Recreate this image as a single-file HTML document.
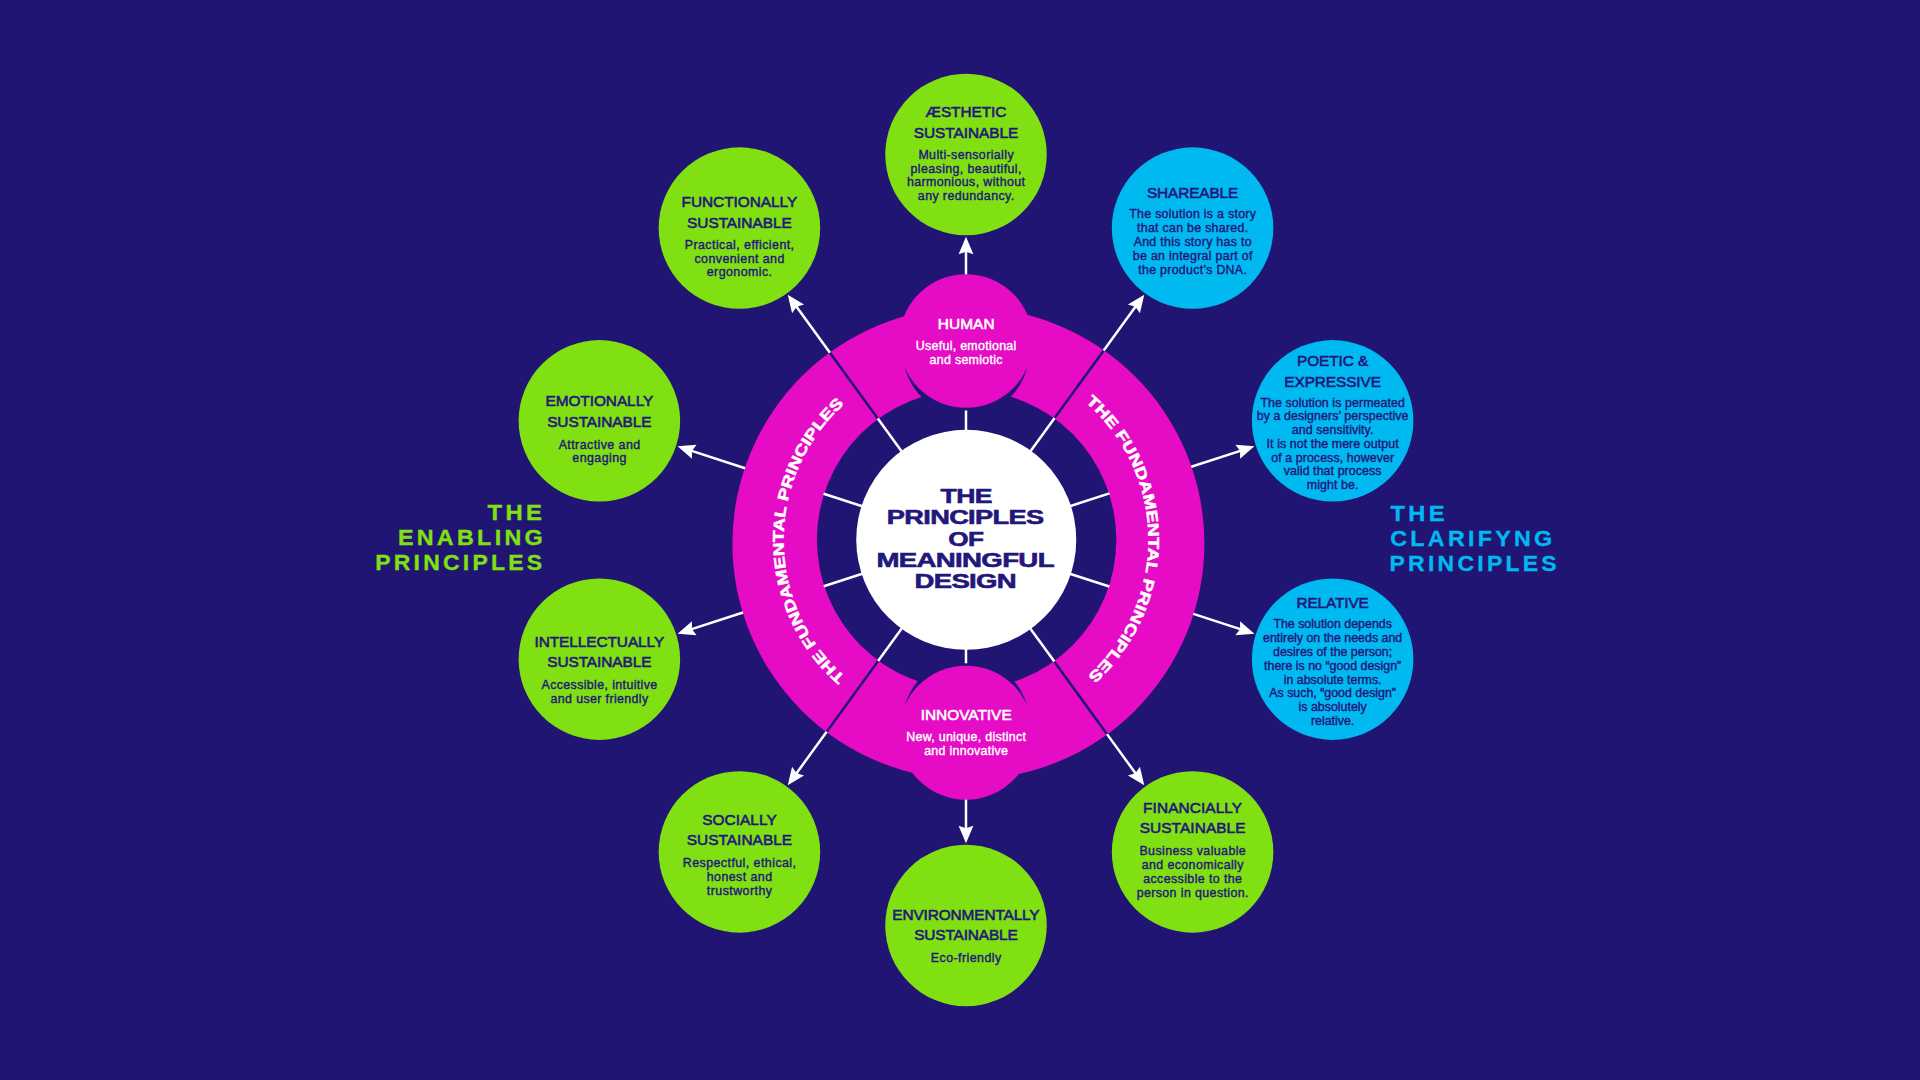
<!DOCTYPE html>
<html><head><meta charset="utf-8"><title>The Principles of Meaningful Design</title>
<style>
html,body{margin:0;padding:0;background:#201573;overflow:hidden}
svg{display:block}
text{font-family:"Liberation Sans",sans-serif}
.t{font-size:15.4px;fill:#22177a;stroke:#22177a;stroke-width:0.6px;text-anchor:middle}
.b{font-size:12.4px;fill:#22177a;stroke:#22177a;stroke-width:0.4px;text-anchor:middle}
.w{fill:#ffffff;stroke:#ffffff}
.c{font-size:20.6px;font-weight:bold;fill:#22177a}
.s{font-size:20.6px;font-weight:bold}
.r{font-size:15.2px;font-weight:bold;fill:#ffffff;stroke:#ffffff;stroke-width:0.55px}
</style></head>
<body><svg width="1920" height="1080" viewBox="0 0 1920 1080">
<rect width="1920" height="1080" fill="#201573"/>
<circle cx="968.4" cy="543.5" r="236.0" fill="#e60bc4"/>
<circle cx="966.6" cy="539.7" r="149.7" fill="#201573"/>
<line x1="1052.23" y1="421.32" x2="1104.45" y2="349.44" stroke="#201573" stroke-width="2.5"/>
<line x1="1052.23" y1="658.68" x2="1107.80" y2="735.17" stroke="#201573" stroke-width="2.5"/>
<line x1="879.77" y1="658.68" x2="825.88" y2="732.86" stroke="#201573" stroke-width="2.5"/>
<line x1="879.77" y1="421.32" x2="829.19" y2="351.70" stroke="#201573" stroke-width="2.5"/>
<line x1="966.00" y1="285.00" x2="966.00" y2="250.80" stroke="#ffffff" stroke-width="2.5"/>
<polygon points="0.00,-303.30 7.40,-285.70 0.00,-288.20 -7.40,-285.70" fill="#ffffff" transform="translate(966.00,540.00) rotate(0)"/>
<line x1="1027.72" y1="455.05" x2="1054.64" y2="418.00" stroke="#ffffff" stroke-width="2.5"/>
<line x1="1103.69" y1="350.49" x2="1135.99" y2="306.03" stroke="#ffffff" stroke-width="2.5"/>
<polygon points="0.00,-303.30 7.40,-285.70 0.00,-288.20 -7.40,-285.70" fill="#ffffff" transform="translate(966.00,540.00) rotate(36)"/>
<line x1="1065.86" y1="507.55" x2="1109.48" y2="493.38" stroke="#ffffff" stroke-width="2.5"/>
<line x1="1191.27" y1="466.80" x2="1241.05" y2="450.63" stroke="#ffffff" stroke-width="2.5"/>
<polygon points="0.00,-303.30 7.40,-285.70 0.00,-288.20 -7.40,-285.70" fill="#ffffff" transform="translate(966.00,540.00) rotate(72)"/>
<line x1="1065.86" y1="572.45" x2="1109.30" y2="586.56" stroke="#ffffff" stroke-width="2.5"/>
<line x1="1193.35" y1="613.87" x2="1241.05" y2="629.37" stroke="#ffffff" stroke-width="2.5"/>
<polygon points="0.00,-303.30 7.40,-285.70 0.00,-288.20 -7.40,-285.70" fill="#ffffff" transform="translate(966.00,540.00) rotate(108)"/>
<line x1="1027.72" y1="624.95" x2="1054.35" y2="661.60" stroke="#ffffff" stroke-width="2.5"/>
<line x1="1107.03" y1="734.12" x2="1135.99" y2="773.97" stroke="#ffffff" stroke-width="2.5"/>
<polygon points="0.00,-303.30 7.40,-285.70 0.00,-288.20 -7.40,-285.70" fill="#ffffff" transform="translate(966.00,540.00) rotate(144)"/>
<line x1="966.00" y1="795.00" x2="966.00" y2="829.20" stroke="#ffffff" stroke-width="2.5"/>
<polygon points="0.00,-303.30 7.40,-285.70 0.00,-288.20 -7.40,-285.70" fill="#ffffff" transform="translate(966.00,540.00) rotate(180)"/>
<line x1="904.28" y1="624.95" x2="878.06" y2="661.03" stroke="#ffffff" stroke-width="2.5"/>
<line x1="826.64" y1="731.81" x2="796.01" y2="773.97" stroke="#ffffff" stroke-width="2.5"/>
<polygon points="0.00,-303.30 7.40,-285.70 0.00,-288.20 -7.40,-285.70" fill="#ffffff" transform="translate(966.00,540.00) rotate(216)"/>
<line x1="866.14" y1="572.45" x2="823.78" y2="586.21" stroke="#ffffff" stroke-width="2.5"/>
<line x1="743.01" y1="612.45" x2="690.95" y2="629.37" stroke="#ffffff" stroke-width="2.5"/>
<polygon points="0.00,-303.30 7.40,-285.70 0.00,-288.20 -7.40,-285.70" fill="#ffffff" transform="translate(966.00,540.00) rotate(252)"/>
<line x1="866.14" y1="507.55" x2="823.61" y2="493.73" stroke="#ffffff" stroke-width="2.5"/>
<line x1="745.05" y1="468.21" x2="690.95" y2="450.63" stroke="#ffffff" stroke-width="2.5"/>
<polygon points="0.00,-303.30 7.40,-285.70 0.00,-288.20 -7.40,-285.70" fill="#ffffff" transform="translate(966.00,540.00) rotate(288)"/>
<line x1="904.28" y1="455.05" x2="877.78" y2="418.58" stroke="#ffffff" stroke-width="2.5"/>
<line x1="829.95" y1="352.75" x2="796.01" y2="306.03" stroke="#ffffff" stroke-width="2.5"/>
<polygon points="0.00,-303.30 7.40,-285.70 0.00,-288.20 -7.40,-285.70" fill="#ffffff" transform="translate(966.00,540.00) rotate(324)"/>
<circle cx="966.00" cy="352.3" r="63.0" fill="#201573"/>
<line x1="966" y1="440" x2="966" y2="410.5" stroke="#ffffff" stroke-width="2.5"/>
<circle cx="966.00" cy="341.00" r="66.80" fill="#e60bc4"/>
<circle cx="966.00" cy="722.0" r="63.2" fill="#201573"/>
<line x1="966" y1="640" x2="966" y2="663.3" stroke="#ffffff" stroke-width="2.5"/>
<circle cx="966.00" cy="732.70" r="67.00" fill="#e60bc4"/>
<circle cx="966.25" cy="539.8" r="110" fill="#ffffff"/>
<circle cx="966.00" cy="154.50" r="80.75" fill="#80e012"/>
<circle cx="1192.59" cy="228.12" r="80.75" fill="#00b9f1"/>
<circle cx="1332.63" cy="420.87" r="80.75" fill="#00b9f1"/>
<circle cx="1332.63" cy="659.13" r="80.75" fill="#00b9f1"/>
<circle cx="1192.59" cy="851.88" r="80.75" fill="#80e012"/>
<circle cx="966.00" cy="925.50" r="80.75" fill="#80e012"/>
<circle cx="739.41" cy="851.88" r="80.75" fill="#80e012"/>
<circle cx="599.37" cy="659.13" r="80.75" fill="#80e012"/>
<circle cx="599.37" cy="420.87" r="80.75" fill="#80e012"/>
<circle cx="739.41" cy="228.12" r="80.75" fill="#80e012"/>
<text x="965.98" y="117.20" class="t" letter-spacing="-0.05">ÆSTHETIC</text>
<text x="965.98" y="137.90" class="t" letter-spacing="-0.05">SUSTAINABLE</text>
<text x="966.20" y="158.80" class="b" letter-spacing="0.4">Multi-sensorially</text>
<text x="966.20" y="172.50" class="b" letter-spacing="0.4">pleasing, beautiful,</text>
<text x="966.20" y="186.20" class="b" letter-spacing="0.4">harmonious, without</text>
<text x="966.20" y="199.90" class="b" letter-spacing="0.4">any redundancy.</text>
<text x="1192.53" y="197.90" class="t" letter-spacing="-0.13">SHAREABLE</text>
<text x="1192.73" y="217.60" class="b" letter-spacing="0.28">The solution is a story</text>
<text x="1192.73" y="231.62" class="b" letter-spacing="0.28">that can be shared.</text>
<text x="1192.73" y="245.64" class="b" letter-spacing="0.28">And this story has to</text>
<text x="1192.73" y="259.66" class="b" letter-spacing="0.28">be an integral part of</text>
<text x="1192.73" y="273.68" class="b" letter-spacing="0.28">the product’s DNA.</text>
<text x="1332.58" y="365.80" class="t" letter-spacing="-0.1">POETIC &</text>
<text x="1332.58" y="386.70" class="t" letter-spacing="-0.1">EXPRESSIVE</text>
<text x="1332.67" y="406.70" class="b" letter-spacing="0.08">The solution is permeated</text>
<text x="1332.67" y="420.45" class="b" letter-spacing="0.08">by a designers’ perspective</text>
<text x="1332.67" y="434.20" class="b" letter-spacing="0.08">and sensitivity.</text>
<text x="1332.67" y="447.95" class="b" letter-spacing="0.08">It is not the mere output</text>
<text x="1332.67" y="461.70" class="b" letter-spacing="0.08">of a process, however</text>
<text x="1332.67" y="475.45" class="b" letter-spacing="0.08">valid that process</text>
<text x="1332.67" y="489.20" class="b" letter-spacing="0.08">might be.</text>
<text x="1332.57" y="608.00" class="t" letter-spacing="-0.12">RELATIVE</text>
<text x="1332.63" y="627.80" class="b" letter-spacing="0.0">The solution depends</text>
<text x="1332.63" y="641.73" class="b" letter-spacing="0.0">entirely on the needs and</text>
<text x="1332.63" y="655.66" class="b" letter-spacing="0.0">desires of the person;</text>
<text x="1332.63" y="669.59" class="b" letter-spacing="0.0">there is no “good design”</text>
<text x="1332.63" y="683.52" class="b" letter-spacing="0.0">in absolute terms.</text>
<text x="1332.63" y="697.45" class="b" letter-spacing="0.0">As such, “good design”</text>
<text x="1332.63" y="711.38" class="b" letter-spacing="0.0">is absolutely</text>
<text x="1332.63" y="725.31" class="b" letter-spacing="0.0">relative.</text>
<text x="1192.64" y="813.00" class="t" letter-spacing="0.1">FINANCIALLY</text>
<text x="1192.64" y="833.30" class="t" letter-spacing="0.1">SUSTAINABLE</text>
<text x="1192.79" y="854.70" class="b" letter-spacing="0.4">Business valuable</text>
<text x="1192.79" y="868.70" class="b" letter-spacing="0.4">and economically</text>
<text x="1192.79" y="882.70" class="b" letter-spacing="0.4">accessible to the</text>
<text x="1192.79" y="896.70" class="b" letter-spacing="0.4">person in question.</text>
<text x="965.93" y="919.70" class="t" letter-spacing="-0.13">ENVIRONMENTALLY</text>
<text x="965.93" y="939.70" class="t" letter-spacing="-0.13">SUSTAINABLE</text>
<text x="966.23" y="962.00" class="b" letter-spacing="0.45">Eco-friendly</text>
<text x="739.43" y="825.00" class="t" letter-spacing="0.05">SOCIALLY</text>
<text x="739.43" y="845.00" class="t" letter-spacing="0.05">SUSTAINABLE</text>
<text x="739.63" y="866.70" class="b" letter-spacing="0.45">Respectful, ethical,</text>
<text x="739.63" y="880.70" class="b" letter-spacing="0.45">honest and</text>
<text x="739.63" y="894.70" class="b" letter-spacing="0.45">trustworthy</text>
<text x="599.33" y="647.00" class="t" letter-spacing="-0.07">INTELLECTUALLY</text>
<text x="599.33" y="666.70" class="t" letter-spacing="-0.07">SUSTAINABLE</text>
<text x="599.56" y="688.70" class="b" letter-spacing="0.38">Accessible, intuitive</text>
<text x="599.56" y="702.50" class="b" letter-spacing="0.38">and user friendly</text>
<text x="599.34" y="406.20" class="t" letter-spacing="-0.05">EMOTIONALLY</text>
<text x="599.34" y="426.70" class="t" letter-spacing="-0.05">SUSTAINABLE</text>
<text x="599.59" y="448.70" class="b" letter-spacing="0.44">Attractive and</text>
<text x="599.59" y="461.70" class="b" letter-spacing="0.44">engaging</text>
<text x="739.39" y="207.00" class="t" letter-spacing="-0.03">FUNCTIONALLY</text>
<text x="739.39" y="227.80" class="t" letter-spacing="-0.03">SUSTAINABLE</text>
<text x="739.63" y="248.70" class="b" letter-spacing="0.45">Practical, efficient,</text>
<text x="739.63" y="262.50" class="b" letter-spacing="0.45">convenient and</text>
<text x="739.63" y="276.30" class="b" letter-spacing="0.45">ergonomic.</text>
<text x="966.2" y="328.9" class="t w" letter-spacing="0.1">HUMAN</text>
<text x="966.2" y="349.8" class="b w" letter-spacing="0.3">Useful, emotional</text>
<text x="966.2" y="363.7" class="b w" letter-spacing="0.3">and semiotic</text>
<text x="966.2" y="720.0" class="t w" letter-spacing="0.0">INNOVATIVE</text>
<text x="966.2" y="740.8" class="b w" letter-spacing="0.3">New, unique, distinct</text>
<text x="966.2" y="754.7" class="b w" letter-spacing="0.3">and innovative</text>
<text x="940.6" y="502.9" font-size="20.4" font-weight="bold" letter-spacing="-0.5" fill="#22177a" stroke="#22177a" stroke-width="0.6" textLength="51.2" lengthAdjust="spacingAndGlyphs">THE</text>
<text x="886.8" y="523.8" font-size="20.4" font-weight="bold" letter-spacing="-0.5" fill="#22177a" stroke="#22177a" stroke-width="0.6" textLength="156.616" lengthAdjust="spacingAndGlyphs">PRINCIPLES</text>
<text x="948.25" y="546.0" font-size="20.4" font-weight="bold" letter-spacing="-0.5" fill="#22177a" stroke="#22177a" stroke-width="0.6" textLength="35.069" lengthAdjust="spacingAndGlyphs">OF</text>
<text x="876.4" y="566.8" font-size="20.4" font-weight="bold" letter-spacing="-0.5" fill="#22177a" stroke="#22177a" stroke-width="0.6" textLength="177.459" lengthAdjust="spacingAndGlyphs">MEANINGFUL</text>
<text x="914.5" y="587.9" font-size="20.4" font-weight="bold" letter-spacing="-0.5" fill="#22177a" stroke="#22177a" stroke-width="0.6" textLength="101.501" lengthAdjust="spacingAndGlyphs">DESIGN</text>
<text x="487.6" y="520.2" font-size="21.3" font-weight="bold" letter-spacing="3.0" fill="#80e012" stroke="#80e012" stroke-width="0.3" textLength="57.695" lengthAdjust="spacingAndGlyphs">THE</text>
<text x="397.9" y="545.2" font-size="21.3" font-weight="bold" letter-spacing="3.0" fill="#80e012" stroke="#80e012" stroke-width="0.3" textLength="148.087" lengthAdjust="spacingAndGlyphs">ENABLING</text>
<text x="375.2" y="570.2" font-size="21.3" font-weight="bold" letter-spacing="3.0" fill="#80e012" stroke="#80e012" stroke-width="0.3" textLength="170.217" lengthAdjust="spacingAndGlyphs">PRINCIPLES</text>
<text x="1390.4" y="521.25" font-size="21.3" font-weight="bold" letter-spacing="3.0" fill="#00b9f1" stroke="#00b9f1" stroke-width="0.3" textLength="57.392" lengthAdjust="spacingAndGlyphs">THE</text>
<text x="1390.25" y="546.25" font-size="21.3" font-weight="bold" letter-spacing="3.0" fill="#00b9f1" stroke="#00b9f1" stroke-width="0.3" textLength="165.221" lengthAdjust="spacingAndGlyphs">CLARIFYNG</text>
<text x="1389.5" y="571.25" font-size="21.3" font-weight="bold" letter-spacing="3.0" fill="#00b9f1" stroke="#00b9f1" stroke-width="0.3" textLength="170.423" lengthAdjust="spacingAndGlyphs">PRINCIPLES</text>
<text class="r" x="-4.64" y="0" transform="translate(841.15,672.97) rotate(-136.80) scale(1.2553,1)">T</text>
<text class="r" x="-5.48" y="0" transform="translate(832.13,663.89) rotate(-132.78) scale(1.2553,1)">H</text>
<text class="r" x="-5.07" y="0" transform="translate(823.55,653.92) rotate(-128.65) scale(1.2553,1)">E</text>
<text class="r" x="-4.64" y="0" transform="translate(813.29,639.75) rotate(-123.15) scale(1.2553,1)">F</text>
<text class="r" x="-5.48" y="0" transform="translate(806.69,628.82) rotate(-119.14) scale(1.2553,1)">U</text>
<text class="r" x="-5.48" y="0" transform="translate(800.46,616.58) rotate(-114.82) scale(1.2553,1)">N</text>
<text class="r" x="-5.48" y="0" transform="translate(795.16,603.88) rotate(-110.50) scale(1.2553,1)">D</text>
<text class="r" x="-5.48" y="0" transform="translate(790.81,590.75) rotate(-106.15) scale(1.2553,1)">A</text>
<text class="r" x="-6.32" y="0" transform="translate(787.27,576.40) rotate(-101.51) scale(1.2553,1)">M</text>
<text class="r" x="-5.07" y="0" transform="translate(784.97,562.26) rotate(-97.01) scale(1.2553,1)">E</text>
<text class="r" x="-5.48" y="0" transform="translate(783.83,549.05) rotate(-92.84) scale(1.2553,1)">N</text>
<text class="r" x="-4.08" y="0" transform="translate(783.63,537.04) rotate(-89.07) scale(1.2553,1)">T</text>
<text class="r" x="-5.48" y="0" transform="translate(784.22,525.05) rotate(-85.30) scale(1.2553,1)">A</text>
<text class="r" x="-4.50" y="0" transform="translate(785.68,512.58) rotate(-81.35) scale(1.2553,1)">L</text>
<text class="r" x="-5.07" y="0" transform="translate(789.10,495.58) rotate(-75.91) scale(1.2553,1)">P</text>
<text class="r" x="-5.48" y="0" transform="translate(792.79,482.85) rotate(-71.74) scale(1.2553,1)">R</text>
<text class="r" x="-2.12" y="0" transform="translate(796.01,473.87) rotate(-68.74) scale(1.2553,1)">I</text>
<text class="r" x="-5.48" y="0" transform="translate(799.72,465.04) rotate(-65.74) scale(1.2553,1)">N</text>
<text class="r" x="-5.48" y="0" transform="translate(805.84,452.73) rotate(-61.42) scale(1.2553,1)">C</text>
<text class="r" x="-2.12" y="0" transform="translate(810.64,444.45) rotate(-58.41) scale(1.2553,1)">I</text>
<text class="r" x="-5.07" y="0" transform="translate(815.51,436.94) rotate(-55.60) scale(1.2553,1)">P</text>
<text class="r" x="-4.64" y="0" transform="translate(822.78,427.05) rotate(-51.74) scale(1.2553,1)">L</text>
<text class="r" x="-5.07" y="0" transform="translate(830.61,417.77) rotate(-47.93) scale(1.2553,1)">E</text>
<text class="r" x="-5.07" y="0" transform="translate(839.49,408.61) rotate(-43.92) scale(1.2553,1)">S</text>
<text class="r" x="-4.67" y="0" transform="translate(1089.71,405.97) rotate(42.71) scale(1.2553,1)">T</text>
<text class="r" x="-5.51" y="0" transform="translate(1098.86,415.03) rotate(46.75) scale(1.2553,1)">H</text>
<text class="r" x="-5.10" y="0" transform="translate(1107.57,424.99) rotate(50.91) scale(1.2553,1)">E</text>
<text class="r" x="-4.67" y="0" transform="translate(1118.00,439.17) rotate(56.44) scale(1.2553,1)">F</text>
<text class="r" x="-5.51" y="0" transform="translate(1124.72,450.13) rotate(60.48) scale(1.2553,1)">U</text>
<text class="r" x="-5.51" y="0" transform="translate(1131.07,462.40) rotate(64.82) scale(1.2553,1)">N</text>
<text class="r" x="-5.51" y="0" transform="translate(1136.48,475.15) rotate(69.17) scale(1.2553,1)">D</text>
<text class="r" x="-5.51" y="0" transform="translate(1140.93,488.34) rotate(73.55) scale(1.2553,1)">A</text>
<text class="r" x="-6.36" y="0" transform="translate(1144.55,502.76) rotate(78.22) scale(1.2553,1)">M</text>
<text class="r" x="-5.10" y="0" transform="translate(1146.94,516.97) rotate(82.75) scale(1.2553,1)">E</text>
<text class="r" x="-5.51" y="0" transform="translate(1148.14,530.26) rotate(86.94) scale(1.2553,1)">N</text>
<text class="r" x="-4.10" y="0" transform="translate(1148.38,542.34) rotate(90.74) scale(1.2553,1)">T</text>
<text class="r" x="-5.51" y="0" transform="translate(1147.83,554.41) rotate(94.53) scale(1.2553,1)">A</text>
<text class="r" x="-4.53" y="0" transform="translate(1146.39,566.96) rotate(98.50) scale(1.2553,1)">L</text>
<text class="r" x="-5.10" y="0" transform="translate(1142.99,584.08) rotate(103.98) scale(1.2553,1)">P</text>
<text class="r" x="-5.51" y="0" transform="translate(1139.30,596.90) rotate(108.18) scale(1.2553,1)">R</text>
<text class="r" x="-2.13" y="0" transform="translate(1136.06,605.93) rotate(111.19) scale(1.2553,1)">I</text>
<text class="r" x="-5.51" y="0" transform="translate(1132.35,614.82) rotate(114.22) scale(1.2553,1)">N</text>
<text class="r" x="-5.51" y="0" transform="translate(1126.20,627.21) rotate(118.56) scale(1.2553,1)">C</text>
<text class="r" x="-2.13" y="0" transform="translate(1121.37,635.55) rotate(121.59) scale(1.2553,1)">I</text>
<text class="r" x="-5.10" y="0" transform="translate(1116.46,643.10) rotate(124.42) scale(1.2553,1)">P</text>
<text class="r" x="-4.67" y="0" transform="translate(1109.14,653.05) rotate(128.30) scale(1.2553,1)">L</text>
<text class="r" x="-5.10" y="0" transform="translate(1101.25,662.38) rotate(132.14) scale(1.2553,1)">E</text>
<text class="r" x="-5.10" y="0" transform="translate(1092.31,671.58) rotate(136.17) scale(1.2553,1)">S</text>
</svg></body></html>
